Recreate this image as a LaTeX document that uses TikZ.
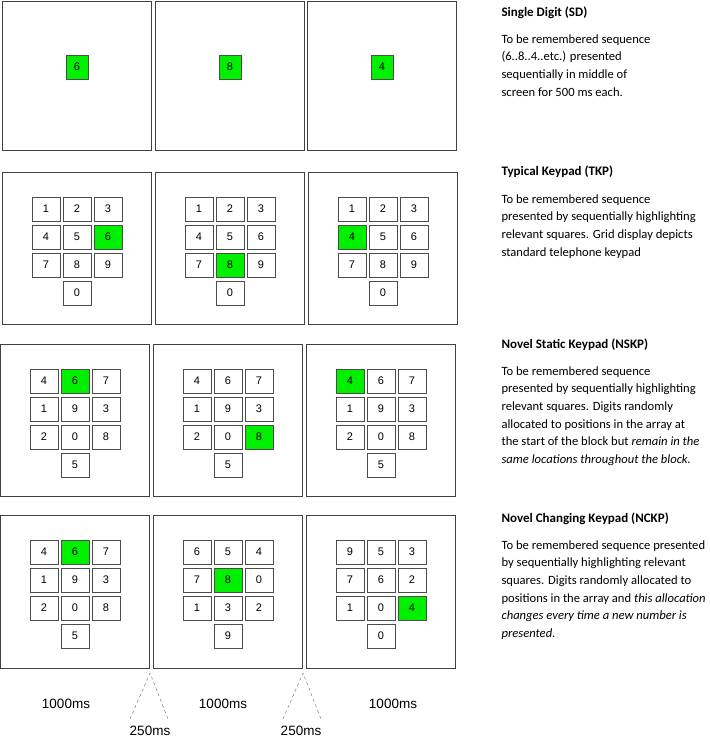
\documentclass[tikz,border=0pt]{standalone}
\usepackage{fontspec}
\setmainfont{Carlito}
\newfontfamily\keyfont{Liberation Sans}
\definecolor{hl}{RGB}{0,240,0}
\begin{document}
\begin{tikzpicture}[x=1pt,y=-1pt,
  panel/.style={draw=black!75,line width=0.9pt},
  key/.style={draw=black!70,line width=0.8pt,minimum width=28pt,minimum height=24pt,inner sep=0pt,font=\keyfont\fontsize{11}{13}\selectfont},
  hkey/.style={key,fill=hl},
  ttl/.style={anchor=west,font=\bfseries\fontsize{13}{15}\selectfont},
  body/.style={anchor=north west,align=left,font=\fontsize{12.6}{17.6}\selectfont},
  tm/.style={font=\keyfont\fontsize{13.5}{15}\selectfont}]
\useasboundingbox (0,0) rectangle (709,741);
\newcommand{\kpad}[5]{%
 \foreach \d [count=\i from 0] in {#4}{%
   \pgfmathtruncatemacro{\r}{\i/3}\pgfmathtruncatemacro{\c}{mod(\i,3)}%
   \ifnum\i=9 \def\c{1}\fi
   \ifnum\i=#5 \node[hkey] (#3k\i) at (#1+44+31*\c-31,#2+12+28*\r) {\d};
   \else \node[key] (#3k\i) at (#1+44+31*\c-31,#2+12+28*\r) {\d};\fi}}
% row 1
\foreach \x/\d [count=\n] in {2/6,155/8,307/4}{
  \node[panel,minimum width=149pt,minimum height=149pt,anchor=north west] (sd\n) at (\x,1) {};
  \node[hkey,minimum width=22pt,minimum height=24pt] (sdk\n) at (\x+75,67) {\d};}
% row 2
\node[panel,minimum width=149pt,minimum height=152pt,anchor=north west] (tp1) at (2,172) {};
\node[panel,minimum width=149pt,minimum height=152pt,anchor=north west] (tp2) at (155,172) {};
\node[panel,minimum width=149pt,minimum height=152pt,anchor=north west] (tp3) at (308,172) {};
\kpad{2+31}{172+25}{a}{1,2,3,4,5,6,7,8,9,0}{5}
\kpad{155+31}{172+25}{b}{1,2,3,4,5,6,7,8,9,0}{7}
\kpad{308+31}{172+25}{c}{1,2,3,4,5,6,7,8,9,0}{3}
% row 3
\node[panel,minimum width=149pt,minimum height=152pt,anchor=north west] (ns1) at (0,344) {};
\node[panel,minimum width=149pt,minimum height=152pt,anchor=north west] (ns2) at (153,344) {};
\node[panel,minimum width=149pt,minimum height=152pt,anchor=north west] (ns3) at (306,344) {};
\kpad{0+31}{344+25}{d}{4,6,7,1,9,3,2,0,8,5}{1}
\kpad{153+31}{344+25}{e}{4,6,7,1,9,3,2,0,8,5}{8}
\kpad{306+31}{344+25}{f}{4,6,7,1,9,3,2,0,8,5}{0}
% row 4
\node[panel,minimum width=149pt,minimum height=153pt,anchor=north west] (nc1) at (0,515) {};
\node[panel,minimum width=149pt,minimum height=153pt,anchor=north west] (nc2) at (153,515) {};
\node[panel,minimum width=149pt,minimum height=153pt,anchor=north west] (nc3) at (306,515) {};
\kpad{0+31}{515+25}{g}{4,6,7,1,9,3,2,0,8,5}{1}
\kpad{153+31}{515+25}{h}{6,5,4,7,8,0,1,3,2,9}{4}
\kpad{306+31}{515+25}{i}{9,5,3,7,6,2,1,0,4,0}{8}
% texts
\node[ttl] (t1) at (498,13) {Single Digit (SD)};
\node[body] (b1) at (498,31) {To be remembered sequence\\(6..8..4..etc.) presented\\sequentially in middle of\\screen for 500 ms each.};
\node[ttl] (t2) at (498,172) {Typical Keypad (TKP)};
\node[body] (b2) at (498,191) {To be remembered sequence\\presented by sequentially highlighting\\relevant squares. Grid display depicts\\standard telephone keypad};
\node[ttl] (t3) at (498,345) {Novel Static Keypad (NSKP)};
\node[body] (b3) at (498,363) {To be remembered sequence\\presented by sequentially highlighting\\relevant squares. Digits randomly\\allocated to positions in the array at\\the start of the block but \textit{remain in the}\\\textit{same locations throughout the block.}};
\node[ttl] (t4) at (498,519) {Novel Changing Keypad (NCKP)};
\node[body] (b4) at (498,537) {To be remembered sequence presented\\by sequentially highlighting relevant\\squares. Digits randomly allocated to\\positions in the array and \textit{this allocation}\\\textit{changes every time a new number is}\\\textit{presented}.};
% timing
\node[tm] (m1) at (66,704) {1000ms};
\node[tm] (m2) at (223,704) {1000ms};
\node[tm] (m3) at (393,704) {1000ms};
\node[tm] (q1) at (150,731) {250ms};
\node[tm] (q2) at (301,731) {250ms};
\coordinate (a1) at (150,673); \coordinate (l1) at (130,719); \coordinate (r1) at (168,719);
\coordinate (a2) at (303,673); \coordinate (l2) at (283,719); \coordinate (r2) at (321,719);
\draw[dashed,black!60] (l1) -- (a1) -- (r1) (l2) -- (a2) -- (r2);
\end{tikzpicture}
\end{document}
